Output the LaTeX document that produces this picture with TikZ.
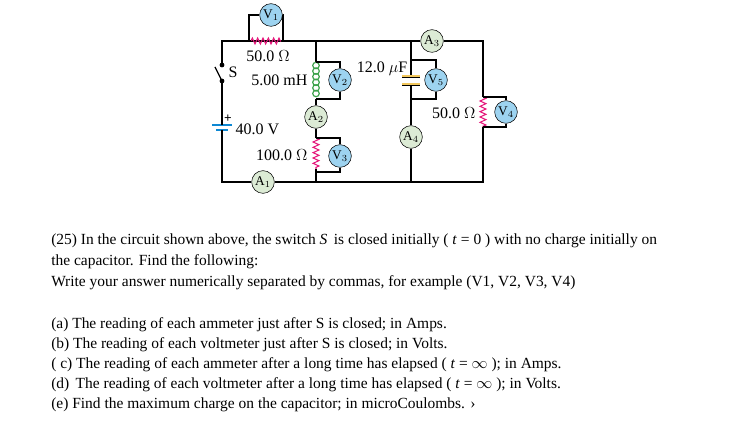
\documentclass[tikz,border=0pt]{standalone}
\usepackage{fontspec}
\setmainfont{Liberation Serif}
\usetikzlibrary{decorations.pathmorphing}
\definecolor{vblue}{HTML}{9DD3F0}
\definecolor{agreen}{HTML}{DCEBD5}
\definecolor{rpink}{HTML}{E5157A}
\definecolor{lgreen}{HTML}{3FA34D}
\definecolor{cgold}{HTML}{F2C75C}
\begin{document}
\begin{tikzpicture}[x=0.75pt,y=-0.75pt,
  vm/.style={circle,draw,fill=vblue,inner sep=0pt,minimum size=17pt,font=\fontsize{10}{10}\selectfont},
  am/.style={circle,draw,fill=agreen,inner sep=0pt,minimum size=17pt,font=\fontsize{10}{10}\selectfont},
  res/.style={draw=rpink,thick,decorate,decoration={zigzag,segment length=4pt,amplitude=2.2pt}},
  lab/.style={font=\fontsize{12}{12}\selectfont,inner sep=1pt},
  txt/.style={anchor=west,font=\fontsize{11.6}{13}\selectfont,inner sep=0pt},
  wire/.style={draw,line width=0.8pt}]
\useasboundingbox (0,0) rectangle (742,441);
\coordinate (TL) at (222,41); \coordinate (BL) at (222,182);
\coordinate (TM) at (316,41); \coordinate (BM) at (316,182);
\coordinate (TC) at (411,41); \coordinate (BC) at (411,182);
\coordinate (TR) at (483,41); \coordinate (BR) at (483,182);
\node[vm] (V1) at (271,15) {V$_1$};
\node[vm] (V2) at (340,80) {V$_2$};
\node[vm] (V3) at (340,156) {V$_3$};
\node[vm] (V5) at (436,80) {V$_5$};
\node[vm] (V4) at (506,112) {V$_4$};
\node[am] (A1) at (263,182) {A$_1$};
\node[am] (A2) at (316,117) {A$_2$};
\node[am] (A3) at (432,41) {A$_3$};
\node[am] (A4) at (411,137) {A$_4$};
\coordinate (r1a) at (251,41); \coordinate (r1b) at (281,41);
\coordinate (s1) at (222,65); \coordinate (s2) at (222,81);
\coordinate (b1) at (222,122); \coordinate (b2) at (222,132);
\coordinate (L1) at (316,62); \coordinate (L2) at (316,99);
\coordinate (R3a) at (316,138); \coordinate (R3b) at (316,169);
\coordinate (c1) at (411,77); \coordinate (c2) at (411,85);
\coordinate (C1) at (411,60); \coordinate (C2) at (411,99);
\coordinate (R4a) at (483,97); \coordinate (R4b) at (483,127);
\path[wire] (b2) -- (BL) -- (A1) -- (BR) -- (R4b);
\path[wire] (R4a) -- (TR) -- (A3) -- (TL) -- (s1);
\path[wire] (s2) -- (b1);
\path[wire] (r1b) -- (TM);
\path[wire] (TM) -- (L1); \path[wire] (L2) -- (A2) -- (R3a); \path[wire] (R3b) -- (BM);
\path[wire] (TC) -- (c1); \path[wire] (c2) -- (A4) -- (BC);
\draw[res] (r1a) -- (r1b);
% switch
\fill (s1) circle (1.8pt); \fill (s2) circle (1.8pt);
\draw[line width=0.9pt] (s2) -- (215,67);
\node[lab] at (233,72) {S};
% battery
\draw[draw=cyan!70!blue,line width=1.2pt] (212,125) -- (232,125);
\draw[draw=cyan!70!blue,line width=1.2pt] (216,130) -- (228,130);
\path[wire] (222,122) -- (222,125); \path[wire] (222,130) -- (222,133);
\node[lab,font=\fontsize{10}{10}\selectfont\bfseries] at (228,119) {+};
\node[lab,anchor=west] at (234,129) {40.0 V};
% V1 loop
\path[wire] (r1a) -- (249,41) -- (249,15) -- (V1) -- (283,15) -- (283,41);
% inductor
\foreach \i in {0,...,5}{ \draw[lgreen,line width=0.9pt] (316,{65.5+5.6*\i}) ellipse [x radius=3.3, y radius=3.2]; }
\path[wire] (316,62) -- (340,62) -- (V2) -- (340,99) -- (316,99);
% R3
\draw[res] (R3a) -- (R3b);
\path[wire] (R3a) -- (340,138) -- (V3) -- (340,172) -- (316,172);
% capacitor
\fill[cgold] (402,75.5) rectangle (420,78.5);
\fill[cgold] (402,83.5) rectangle (420,86.5);
\draw (402,77) -- (420,77); \draw (402,85) -- (420,85);
\path[wire] (C1) -- (436,60) -- (V5) -- (436,99) -- (C2);
% R4
\draw[res] (R4a) -- (R4b);
\path[wire] (R4a) -- (506,97) -- (V4) -- (506,127) -- (R4b);
% labels
\node[lab] at (268,56) {50.0 $\Omega$};
\node[lab,anchor=east] at (309,80) {5.00 mH};
\node[lab] at (382,69) {12.0 $\mu$F};
\node[lab,anchor=east] at (477,113) {50.0 $\Omega$};
\node[lab,anchor=east] at (309,155) {100.0 $\Omega$};
% text
\node[txt] at (51,241) {(25) In the circuit shown above, the switch \textit{S}\, is closed initially ( \textit{t} = 0 ) with no charge initially on};
\node[txt] at (51,262) {the capacitor. Find the following:};
\node[txt] at (51,283) {Write your answer numerically separated by commas, for example (V1, V2, V3, V4)};
\node[txt] at (51,325) {(a) The reading of each ammeter just after S is closed; in Amps.};
\node[txt] at (51,345) {(b) The reading of each voltmeter just after S is closed; in Volts.};
\node[txt] at (51,365) {( c) The reading of each ammeter after a long time has elapsed ( \textit{t} = $\infty$ ); in Amps.};
\node[txt] at (51,385) {(d)\, The reading of each voltmeter after a long time has elapsed ( \textit{t} = $\infty$ ); in Volts.};
\node[txt] at (51,405) {(e) Find the maximum charge on the capacitor; in microCoulombs. ›};
\end{tikzpicture}
\end{document}
